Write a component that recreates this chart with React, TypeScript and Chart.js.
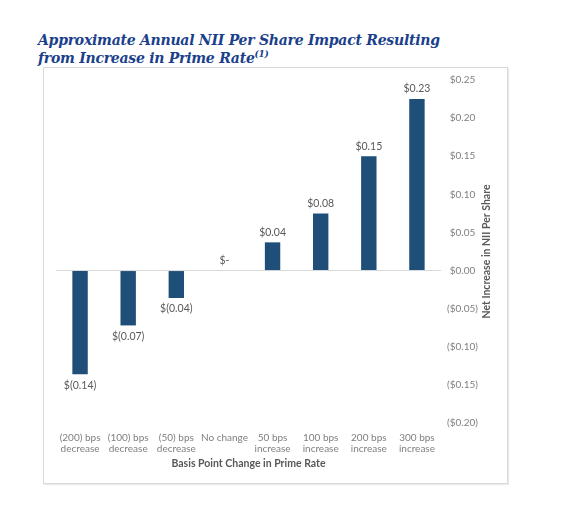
import { useEffect, useRef } from 'react';
import { Chart, registerables, type Plugin } from 'chart.js';

Chart.register(...registerables);

// Values.
const CATEGORIES: string[][] = [
  ['(200) bps', 'decrease'],
  ['(100) bps', 'decrease'],
  ['(50) bps', 'decrease'],
  ['No change'],
  ['50 bps', 'increase'],
  ['100 bps', 'increase'],
  ['200 bps', 'increase'],
  ['300 bps', 'increase'],
];
const NII_IMPACT = [-0.136, -0.072, -0.036, 0, 0.037, 0.075, 0.15, 0.225];
const VALUE_LABELS = ['$(0.14)', '$(0.07)', '$(0.04)', '$-', '$0.04', '$0.08', '$0.15', '$0.23'];
const Y_MIN = -0.2;
const Y_MAX = 0.25;
const Y_STEP = 0.05;

const BAR_COLOR = '#1f4e79';
const TEXT_GRAY = '#7f7f7f';
const LABEL_GRAY = '#595959';
const FONT = 'Lato, "Open Sans", sans-serif';

function money(v: number): string {
  const r = Math.round(v * 100) / 100;
  const s = '$' + Math.abs(r).toFixed(2);
  return r < 0 ? `(${s})` : s;
}

// Value labels above positive bars, below negative ones.
const valueLabelPlugin: Plugin = {
  id: 'valueLabels',
  afterDatasetsDraw(chart) {
    const { ctx } = chart;
    const meta = chart.getDatasetMeta(0);
    ctx.save();
    ctx.font = `10.5px ${FONT}`;
    ctx.fillStyle = LABEL_GRAY;
    ctx.textAlign = 'center';
    ctx.textBaseline = 'middle';
    meta.data.forEach((bar, i) => {
      const v = NII_IMPACT[i];
      const { x, y } = bar.getProps(['x', 'y'], true) as { x: number; y: number };
      const ty = v < 0 ? y + 11 : y - 10;
      ctx.fillText(VALUE_LABELS[i], x, ty);
    });
    ctx.restore();
  },
};

// Right-hand axis title, reading bottom-to-top like the original.
const rightTitlePlugin: Plugin = {
  id: 'rightTitle',
  afterDraw(chart) {
    const { ctx, chartArea } = chart;
    const yScale = chart.scales.y;
    ctx.save();
    ctx.font = `bold 10.5px ${FONT}`;
    ctx.fillStyle = LABEL_GRAY;
    ctx.textAlign = 'center';
    ctx.textBaseline = 'middle';
    ctx.translate(yScale.right - 20, (chartArea.top + chartArea.bottom) / 2);
    ctx.rotate(-Math.PI / 2);
    ctx.fillText('Net Increase in NII Per Share', 0, 0);
    ctx.restore();
  },
};

export default function App() {
  const canvasRef = useRef<HTMLCanvasElement | null>(null);

  useEffect(() => {
    document.body.style.margin = '0';
    const ctx = canvasRef.current?.getContext('2d');
    if (!ctx) return undefined;
    const chart = new Chart(ctx, {
      type: 'bar',
      data: {
        labels: CATEGORIES,
        datasets: [
          {
            data: NII_IMPACT,
            backgroundColor: BAR_COLOR,
            barPercentage: 0.64,
            categoryPercentage: 0.5,
          },
        ],
      },
      options: {
        animation: false,
        responsive: false,
        layout: { padding: { left: 12, right: 0, top: 11, bottom: 0 } },
        plugins: { legend: { display: false }, tooltip: { enabled: false } },
        scales: {
          x: {
            grid: { display: false },
            border: { display: false },
            ticks: {
              color: TEXT_GRAY,
              font: { family: FONT, size: 10, lineHeight: 1.15 },
              padding: 1,
              maxRotation: 0,
              autoSkip: false,
            },
            title: {
              display: true,
              text: 'Basis Point Change in Prime Rate',
              color: LABEL_GRAY,
              font: { family: FONT, size: 10.5, weight: 'bold' },
              padding: { top: 4, bottom: 13 },
            },
            afterFit(scale) {
              scale.height = 60;
            },
          },
          y: {
            position: 'right',
            min: Y_MIN,
            max: Y_MAX,
            grid: {
              drawTicks: false,
              color: (c) => (c.tick && Math.abs(c.tick.value) < 1e-9 ? '#d9d9d9' : 'transparent'),
            },
            border: { display: false },
            ticks: {
              stepSize: Y_STEP,
              color: TEXT_GRAY,
              font: { family: FONT, size: 10 },
              padding: 6,
              crossAlign: 'center',
              callback: (v) => money(Number(v)),
            },
            afterFit(scale) {
              scale.width = 66;
            },
          },
        },
      },
      plugins: [valueLabelPlugin, rightTitlePlugin],
    });
    return () => chart.destroy();
  }, []);

  return (
    <div style={{ position: 'relative', width: 566, height: 527, background: '#fff' }}>
      <div
        style={{
          position: 'absolute',
          left: 38,
          top: 31,
          fontFamily: '"DejaVu Serif", serif',
          fontWeight: 'bold',
          fontStyle: 'italic',
          fontSize: 14,
          letterSpacing: '-0.25px',
          lineHeight: '18px',
          color: '#1b3f8b',
          whiteSpace: 'nowrap',
        }}
      >
        Approximate Annual NII Per Share Impact Resulting
        <br />
        from Increase in Prime Rate
        <sup style={{ fontSize: 9, lineHeight: 0 }}>(1)</sup>
      </div>
      <div
        style={{
          position: 'absolute',
          left: 43,
          top: 67,
          width: 463,
          height: 415,
          border: '1px solid #d9d9d9',
          boxShadow: '1px 1px 1px rgba(0,0,0,0.08)',
        }}
      >
        <canvas ref={canvasRef} width={463} height={415} style={{ display: 'block' }} />
      </div>
    </div>
  );
}
